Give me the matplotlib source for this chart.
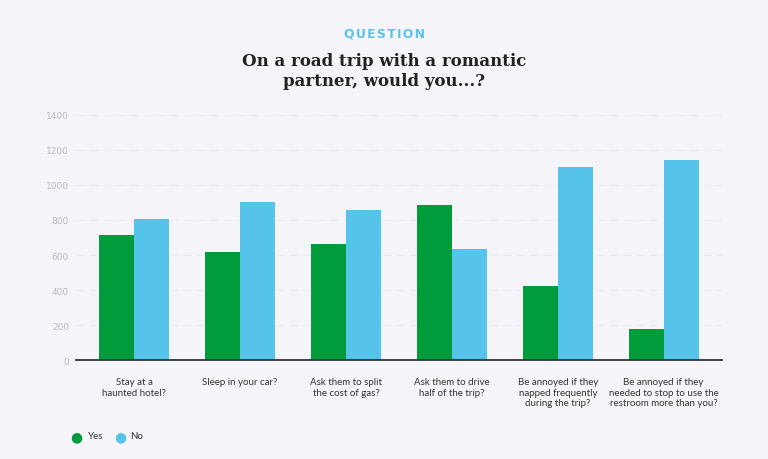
import matplotlib.pyplot as plt
import numpy as np

#------------DATOS------------------#
categorias = [
    "Stay at a\nhaunted hotel?",
    "Sleep in your car?",
    "Ask them to split\nthe cost of gas?",
    "Ask them to drive\nhalf of the trip?",
    "Be annoyed if they\nnapped frequently\nduring the trip?",
    "Be annoyed if they\nneeded to stop to use the\nrestroom more than you?",
]
si = [715, 620, 665, 885, 425, 180]
no = [805, 900, 855, 635, 1100, 1145]
ticks_y = [0, 200, 400, 600, 800, 1000, 1200, 1400]

#------------CODIGO------------------#
fondo = "#f5f5f9"
verde = "#009b3a"
azul = "#56c3ea"

fig = plt.figure(figsize=(7.68, 4.6), dpi=100, facecolor=fondo)
ax = fig.add_axes([0.099, 0.215, 0.841, 0.533], facecolor=fondo)

x = np.arange(len(categorias))
ancho = 0.33
ax.bar(x - ancho / 2, si, ancho, color=verde, zorder=3)
ax.bar(x + ancho / 2, no, ancho, color=azul, zorder=3)

ax.set_xlim(-0.55, len(categorias) - 0.45)
ax.set_ylim(0, 1400)
ax.set_yticks(ticks_y)
ax.set_yticklabels([str(t) for t in ticks_y], fontsize=6.5, color="#b8b8c0")
ax.set_xticks(x)
ax.set_xticklabels(categorias, fontsize=7, family="Lato", color="#333333", linespacing=1.25)
ax.tick_params(axis="both", length=0)
ax.tick_params(axis="x", pad=12)
ax.tick_params(axis="y", pad=5)
ax.grid(axis="y", color="#eaeaf0", linewidth=0.8, linestyle=(0, (8, 4)), zorder=0)

for lado in ["top", "right", "left"]:
    ax.spines[lado].set_visible(False)
ax.spines["bottom"].set_color("#333333")
ax.spines["bottom"].set_linewidth(1.3)
ax.spines["bottom"].set_zorder(4)

fig.text(0.5, 0.926, "\u200a".join("QUESTION"), ha="center", va="center",
         fontsize=9, fontweight="bold", color="#5bc4e8")
fig.text(0.5, 0.845, "On a road trip with a romantic\npartner, would you...?",
         ha="center", va="center", fontsize=12, fontweight="bold",
         family="DejaVu Serif", color="#222222", linespacing=1.2)

# leyenda
fig.text(0.100, 0.05, "\u25cf", color=verde, fontsize=10, ha="center", va="center")
fig.text(0.115, 0.05, "Yes", color="#333333", fontsize=7, family="Lato", ha="left", va="center")
fig.text(0.157, 0.05, "\u25cf", color=azul, fontsize=10, ha="center", va="center")
fig.text(0.170, 0.05, "No", color="#333333", fontsize=7, family="Lato", ha="left", va="center")

plt.savefig("out.png", dpi=100, facecolor=fondo)
